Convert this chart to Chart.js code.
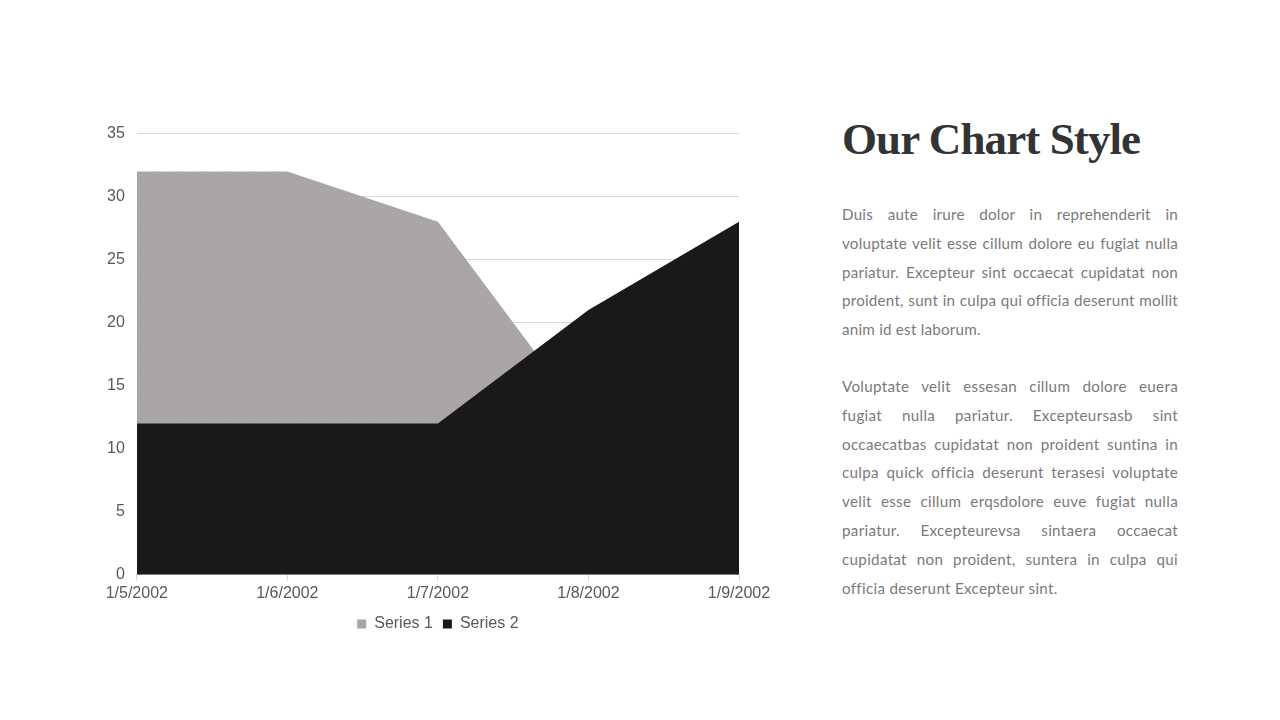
<!DOCTYPE html>
<html><head><meta charset="utf-8">
<script src="https://cdn.jsdelivr.net/npm/chart.js@4.4.0/dist/chart.umd.min.js"></script>
<style>
html,body{margin:0;padding:0;background:#fff;width:1280px;height:720px;overflow:hidden}
#wrap{position:absolute;left:95px;top:112px;width:700px;height:530px}
#title{position:absolute;left:842px;top:113px;font-family:"Liberation Serif","DejaVu Serif",serif;font-weight:bold;font-size:45px;letter-spacing:-0.9px;color:#333;margin:0;white-space:nowrap}
.p{position:absolute;left:842px;width:336px;font-family:Lato,"Open Sans",sans-serif;font-size:15.2px;letter-spacing:0.22px;line-height:28.8px;color:#7a7a7a;text-align:justify;margin:0}
</style></head><body>
<div id="wrap"><canvas id="c"></canvas></div>
<h1 id="title">Our Chart Style</h1>
<p class="p" style="top:200px">Duis aute irure dolor in reprehenderit in voluptate velit esse cillum dolore eu fugiat nulla pariatur. Excepteur sint occaecat cupidatat non proident, sunt in culpa qui officia deserunt mollit anim id est laborum.</p>
<p class="p" style="top:372px;letter-spacing:0.3px">Voluptate velit essesan cillum dolore euera fugiat nulla pariatur. Excepteursasb sint occaecatbas cupidatat non proident suntina in culpa quick officia deserunt terasesi voluptate velit esse cillum erqsdolore euve fugiat nulla pariatur. Excepteurevsa sintaera occaecat cupidatat non proident, suntera in culpa qui officia deserunt Excepteur sint.</p>
<script>
const categories = ["1/5/2002","1/6/2002","1/7/2002","1/8/2002","1/9/2002"];
const series1 = [32, 32, 28, 12, 12];
const series2 = [12, 12, 12, 21, 28];
const yTicks = [0,5,10,15,20,25,30,35];

// subtle dotted texture for the grey area
const pc = document.createElement('canvas'); pc.width = 3; pc.height = 3;
const px = pc.getContext('2d');
px.fillStyle = '#aeaaa9'; px.fillRect(0,0,3,3);
px.fillStyle = '#a19d9c'; px.fillRect(0,0,1,1); px.fillRect(2,1,1,1); px.fillRect(1,2,1,1);
const greyPattern = px.createPattern(pc, 'repeat');

new Chart(document.getElementById('c'), {
  type: 'line',
  data: {
    labels: categories,
    datasets: [
      {label:'Series 1', data: series1, fill:'origin', backgroundColor:greyPattern, borderWidth:0, pointRadius:0, tension:0, order:2},
      {label:'Series 2', data: series2, fill:'origin', backgroundColor:'#191919', borderWidth:0, pointRadius:0, tension:0, order:1}
    ]
  },
  options: {
    responsive:true, maintainAspectRatio:false, animation:false,
    layout:{padding:{left:0,right:56,top:0,bottom:0}},
    plugins:{
      tooltip:{enabled:false},
      legend:{position:'bottom', fullSize:false,
        labels:{boxWidth:9,boxHeight:9,color:'#595959',font:{family:'Liberation Sans, Arial',size:16},padding:10,
          generateLabels:(chart)=>chart.data.datasets.map((d,i)=>({text:d.label,fillStyle:i===0?'#a6a6a6':'#191919',strokeStyle:'transparent',lineWidth:0,datasetIndex:i,fontColor:'#595959'}))
        }}
    },
    scales:{
      x:{offset:false,
        grid:{display:true,drawOnChartArea:false,drawTicks:true,tickLength:6,color:'#d9d9d9'},
        border:{display:true,color:'#d9d9d9'},
        ticks:{color:'#595959',font:{family:'Liberation Sans, Arial',size:16},maxRotation:0,padding:3}},
      y:{min:0,max:35,
        afterBuildTicks:(s)=>{s.ticks=yTicks.map(v=>({value:v}));},
        grid:{color:'#d9d9d9',drawTicks:false},
        border:{display:false},
        ticks:{color:'#595959',font:{family:'Liberation Sans, Arial',size:16},padding:12}}
    }
  }
});
</script>
</body></html>
